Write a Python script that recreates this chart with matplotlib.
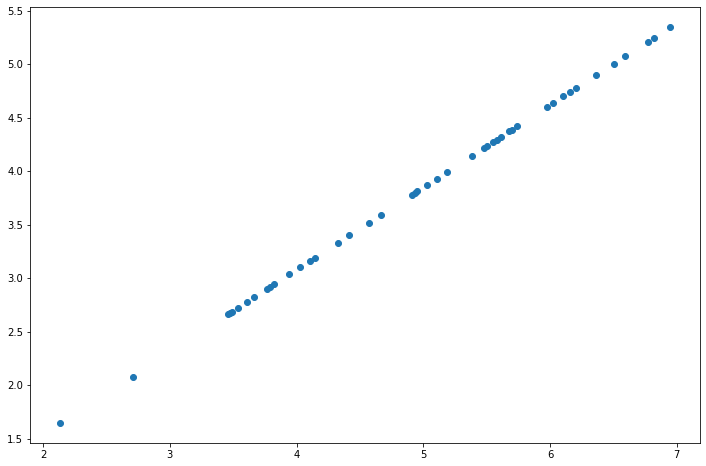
import matplotlib
matplotlib.use('Agg')
import matplotlib.pyplot as plt

# values
x_vals = [2.137, 2.706, 3.455, 3.471, 3.489, 3.536, 3.608, 3.663, 3.766, 3.793,
          3.819, 3.941, 4.027, 4.103, 4.145, 4.327, 4.414, 4.572, 4.667, 4.912,
          4.931, 4.950, 5.031, 5.110, 5.189, 5.387, 5.479, 5.503, 5.550, 5.580,
          5.614, 5.679, 5.699, 5.742, 5.978, 6.027, 6.106, 6.154, 6.201, 6.359,
          6.502, 6.589, 6.771, 6.818, 6.945]
y_vals = [1.650, 2.082, 2.666, 2.675, 2.685, 2.720, 2.776, 2.826, 2.898, 2.919,
          2.943, 3.038, 3.104, 3.160, 3.189, 3.329, 3.404, 3.517, 3.592, 3.780,
          3.798, 3.811, 3.873, 3.930, 3.996, 4.145, 4.220, 4.237, 4.270, 4.294,
          4.324, 4.373, 4.385, 4.420, 4.596, 4.636, 4.699, 4.736, 4.774, 4.896,
          4.999, 5.074, 5.205, 5.243, 5.346]

DPI = 72
fig = plt.figure(figsize=(706 / DPI, 466 / DPI), dpi=DPI)
ax = fig.add_axes([30 / 706, 1 - 442.7 / 466, 670.3 / 706, 435.4 / 466])

ax.scatter(x_vals, y_vals, color='#1f77b4')

ax.tick_params(labelsize=10)

fig.savefig('out.png', dpi=DPI, facecolor='white')
